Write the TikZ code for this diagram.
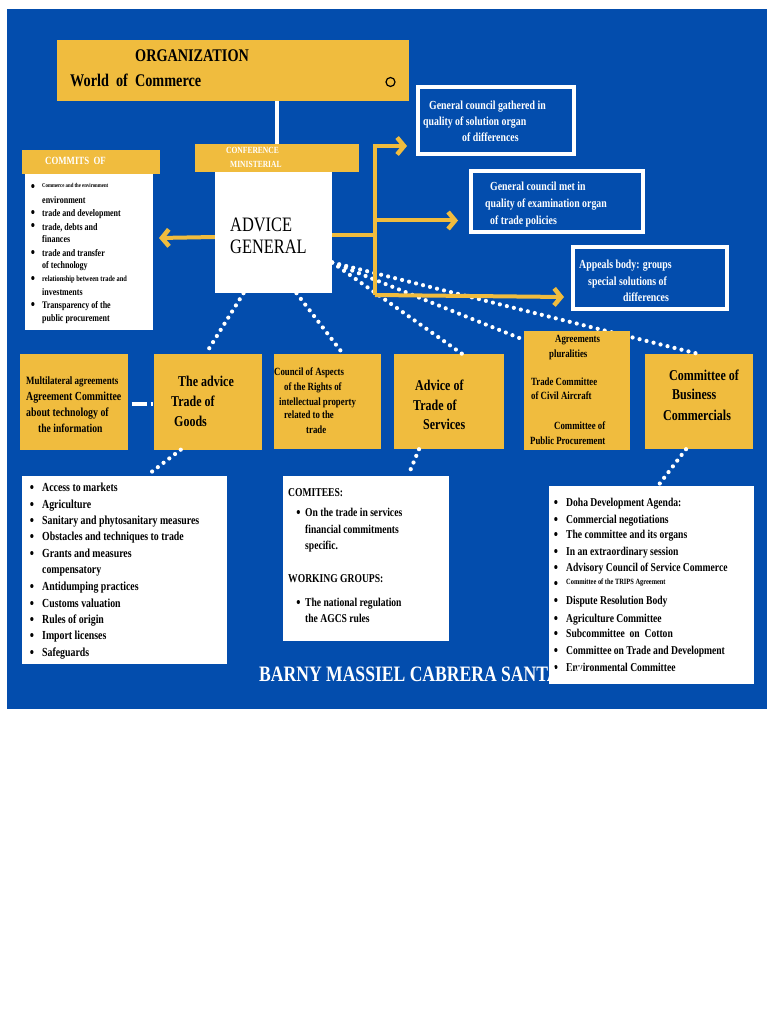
\documentclass[tikz,border=0pt]{standalone}
\usepackage{fontspec}
\usetikzlibrary{arrows.meta}
\newfontfamily\cf[FakeStretch=0.8]{Liberation Serif}
\definecolor{bluebg}{HTML}{034DAD}
\definecolor{goldbox}{HTML}{F0BC3E}
\newcommand\fs[1]{\fontsize{#1}{#1}\selectfont}
\newcommand\bul{\raisebox{-1pt}{\fs{15}\textbullet}}
% \bx{name}{x1}{y1}{x2}{y2}{style}
\newcommand\bx[6]{\node[#6,minimum width={(#4-#2)*1pt},minimum height={(#5-#3)*1pt}] (#1) at ({(#2+#4)/2},{(#3+#5)/2}) {};}
\tikzset{
  x=1pt,y=-1pt,
  goldnode/.style={fill=goldbox,draw=none,inner sep=0pt},
  whitenode/.style={fill=white,draw=none,inner sep=0pt},
  framenode/.style={fill=bluebg,draw=white,line width=4pt,inner sep=0pt},
  tx/.style={anchor=base west,inner sep=0pt,font=\cf\bfseries\fs{#1}},
  tw/.style={tx=#1,text=white},
  blt/.style={anchor=base,inner sep=0pt,font=\cf\bfseries\fs{15}},
  dotline/.style={draw=white,line width=4.2pt,line cap=round,dash pattern=on 0pt off 7.2pt},
  goldline/.style={draw=goldbox,line width=4pt},
  goldarrow/.style={goldline,-{Straight Barb[length=7pt,width=17pt,line width=4.5pt]}},
}
\begin{document}
\begin{tikzpicture}
\useasboundingbox (0,0) rectangle (768,1024);
\fill[white] (0,0) rectangle (768,1024);
\fill[bluebg] (7,9) rectangle (767,709);

% boxes
\bx{org}{57}{40}{409}{101}{goldnode}
\bx{conf}{195}{144}{359}{172}{goldnode}
\bx{advice}{215}{172}{332}{293}{whitenode}
\bx{commits}{21.5}{150}{159.5}{174}{goldnode}
\bx{commitlist}{25}{174}{153}{330}{whitenode}
\bx{solution}{418}{87}{574}{154}{framenode}
\bx{exam}{471}{171}{643}{232}{framenode}
\bx{appeals}{573}{247}{727}{309}{framenode}
\bx{multi}{20}{354}{127.5}{449.5}{goldnode}
\bx{goods}{153.5}{354}{262}{449.5}{goldnode}
\bx{trips}{273.5}{354}{380.5}{449}{goldnode}
\bx{services}{394}{354}{504}{449}{goldnode}
\bx{biz}{645}{354}{753}{449}{goldnode}

% dotted connectors; the one to biz passes behind the plural box
\draw[dotline] ([xshift=-30pt]advice.south) -- ([xshift=-2pt]goods.north);
\draw[dotline] ([xshift=23pt]advice.south) -- ([xshift=16pt]trips.north);
\draw[dotline] ([yshift=-30pt]advice.east) -- ([xshift=13pt]services.north);
\draw[dotline] ([yshift=-30pt]advice.east) -- ([xshift=-1pt]biz.north);
\bx{plural}{524}{331}{630}{450}{goldnode}
\draw[dotline] ([yshift=-30pt]advice.east) -- ([yshift=-9pt]plural.north west);

\bx{goodslist}{22}{476}{227}{664}{whitenode}
\bx{comitees}{283}{476}{449}{641}{whitenode}
\bx{bizlist}{549}{486}{754}{684}{whitenode}

\draw[dotline] ([xshift=-27pt]goods.south) -- ([xshift=22pt]goodslist.north);
\draw[dotline] ([xshift=-30pt]services.south) -- ([xshift=42pt]comitees.north);
\draw[dotline] ([xshift=-13pt]biz.south) -- ([xshift=6.5pt]bizlist.north);
\draw[draw=white,line width=4pt,dash pattern=on 15pt off 4pt on 4pt off 9pt] ([xshift=4pt,yshift=-2pt]multi.east) -- ([yshift=-2pt]goods.west);

% structure lines
\draw[draw=white,line width=4pt] ([xshift=44pt]org.south) -- (conf.north);
\draw[goldarrow] ([yshift=-4.5pt]advice.west) -- (159,238);
\coordinate (jt) at (375,146);
\coordinate (jm) at (375,220.5);
\coordinate (jb) at (375,295);
\draw[goldline] ([yshift=-2.5pt]advice.east) -- (375,235);
\draw[goldarrow] (jb) -- (jt) -- ([yshift=-25.5pt,xshift=-9pt]solution.west);
\draw[goldarrow] (jm) -- ([yshift=-19pt,xshift=-11pt]exam.west);
\draw[goldarrow] (jb) -- ([yshift=-19pt,xshift=-7pt]appeals.west);

% org circle
\node[circle,draw=black,line width=1.2pt,minimum size=9pt,inner sep=0pt] (orgmark) at (390.5,82) {};

% texts
\node[tx=17.8] (orgt1) at (135,62) {ORGANIZATION};
\node[tx=17.8] (orgt2) at (70,87) {World\ \ of\ \ Commerce};
\node[tw=9.4] (conft1) at (226,154) {CONFERENCE};
\node[tw=9.4] (conft2) at (230,168) {MINISTERIAL};
\node[anchor=base west,inner sep=0pt,font=\cf\fs{20.5}] (advt1) at (230,232) {ADVICE};
\node[anchor=base west,inner sep=0pt,font=\cf\fs{20.5}] (advt2) at (230,253) {GENERAL};
\node[tw=11] (comt) at (45,165) {COMMITS\ \ OF};

\foreach \n/\y/\s/\t in {a/188/6/Commerce and the environment,b/204/10/environment,c/217/10/trade and development,d/230/10/{trade, debts and},e/242/10/finances,f/256/10/trade and transfer,g/268/10/of technology,h/281/8/relationship between trade and,i/295/10/investments,j/308/10/Transparency of the,k/321/10/public procurement}
  \node[tx=\s] (cl\n) at (42,\y) {\t};
\foreach \n/\y in {a/191,c/217,d/230,f/256,h/282,j/308}
  \node[blt] (clb\n) at (33,\y) {\bul};

\foreach \n/\x/\y/\t in {a/429/110/General council gathered in,b/423/126/quality of solution organ,c/462/142/of differences}
  \node[tw=12.3] (sol\n) at (\x,\y) {\t};
\foreach \n/\x/\y/\t in {a/490/191/General council met in,b/485/208/quality of examination organ,c/490/225/of trade policies}
  \node[tw=12.3] (ex\n) at (\x,\y) {\t};
\foreach \n/\x/\y/\t in {a/579/268/Appeals body: groups,b/588/285/special solutions of,c/623/301/differences}
  \node[tw=12.3] (ap\n) at (\x,\y) {\t};

\foreach \n/\x/\y/\s/\t in {a/26/384/11.2/Multilateral agreements,b/26/400/12.3/Agreement Committee,c/26/416/12.3/about technology of,d/38/432/12/the information}
  \node[tx=\s] (mu\n) at (\x,\y) {\t};
\foreach \n/\x/\y/\t in {a/178/386/The advice,b/171/406/Trade of,c/174/426/Goods}
  \node[tx=15] (go\n) at (\x,\y) {\t};
\foreach \n/\x/\y/\t in {a/274/375/Council of Aspects,b/284/390/of the Rights of,c/279/405/intellectual property,d/284/418/related to the,e/306/433/trade}
  \node[tx=11] (tr\n) at (\x,\y) {\t};
\foreach \n/\x/\y/\t in {a/415/390/Advice of,b/413/410/Trade of,c/423/429/Services}
  \node[tx=15] (se\n) at (\x,\y) {\t};
\foreach \n/\x/\y/\t in {a/555/342/Agreements,b/549/357/pluralities,c/531/385/Trade Committee,d/531/399/of Civil Aircraft,e/554/429/Committee of,f/530/444/Public Procurement}
  \node[tx=11] (pl\n) at (\x,\y) {\t};
\foreach \n/\x/\y/\t in {a/669/380/Committee of,b/672/399/Business,c/663/420/Commercials}
  \node[tx=15] (bz\n) at (\x,\y) {\t};

\foreach \n/\y/\t in {a/491/Access to markets,b/508/Agriculture,c/524/Sanitary and phytosanitary measures,d/540/Obstacles and techniques to trade,e/557/Grants and measures,f/573/compensatory,g/590/Antidumping practices,h/607/Customs valuation,i/623/Rules of origin,j/639/Import licenses,k/656/Safeguards}
  \node[tx=12.3] (gl\n) at (42,\y) {\t};
\foreach \n/\y in {a/491,b/508,c/524,d/540,e/557,g/590,h/607,i/623,j/639,k/656}
  \node[blt] (glb\n) at (32,\y) {\bul};

\node[tx=12] (cma) at (288,496) {COMITEES:};
\node[tx=12] (cmb) at (305,516) {On the trade in services};
\node[blt] (cmbb) at (298.5,516) {\bul};
\node[tx=12] (cmc) at (305,533) {financial commitments};
\node[tx=12] (cmd) at (305,549) {specific.};
\node[tx=12] (cme) at (288,582) {WORKING GROUPS:};
\node[tx=12] (cmf) at (305,606) {The national regulation};
\node[blt] (cmfb) at (298.5,606) {\bul};
\node[tx=12] (cmg) at (305,622) {the AGCS rules};

\foreach \n/\y/\s/\t in {a/506/12/Doha Development Agenda:,b/523/12/Commercial negotiations,c/538/12/The committee and its organs,d/555/12/In an extraordinary session,e/571/12/Advisory Council of Service Commerce,f/584/8/Committee of the TRIPS Agreement,g/604/12/Dispute Resolution Body,h/622/12/Agriculture Committee,i/637/12/Subcommittee\ \ on\ \ Cotton,j/654/12/Committee on Trade and Development,k/671/12/Environmental Committee}
  \node[tx=\s] (bl\n) at (566,\y) {\t};
\foreach \n/\y in {a/506,b/523,c/538,d/555,e/571,f/587,g/604,h/622,i/637,j/654,k/671}
  \node[blt] (blb\n) at (556,\y) {\bul};

\node[tw=22] (title) at (259,681) {BARNY MASSIEL CABRERA SANTANA};
\end{tikzpicture}
\end{document}
